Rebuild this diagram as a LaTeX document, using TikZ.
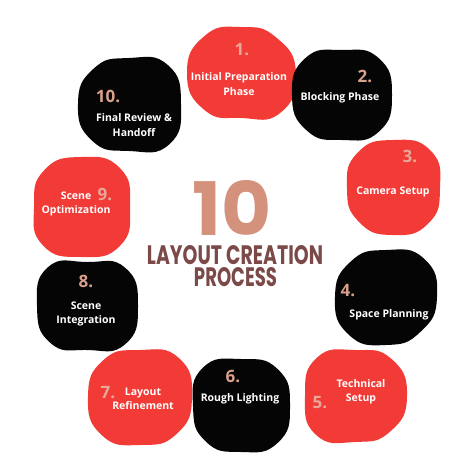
\documentclass[tikz,border=0pt]{standalone}
\usepackage{fontspec}
\usepackage{graphicx}
\setmainfont{Open Sans}
\newfontfamily\titlefont{Poppins}
\definecolor{blobred}{HTML}{F23A36}
\definecolor{blobblack}{HTML}{050505}
\definecolor{numred}{HTML}{E8A898}
\definecolor{numblack}{HTML}{D9A08C}
\definecolor{bigsalmon}{HTML}{D4917B}
\definecolor{titlebrown}{HTML}{7B4A48}
\tikzset{
  lbl/.style={text=white, font=\bfseries\fontsize{10.5}{14.5}\selectfont, align=center, inner sep=0pt},
  numr/.style={text=numred, font=\bfseries\fontsize{17}{17}\selectfont, inner sep=0pt},
  numb/.style={text=numblack, font=\bfseries\fontsize{17}{17}\selectfont, inner sep=0pt},
}
\begin{document}
\begin{tikzpicture}[x=1pt,y=-1pt]
\useasboundingbox (0,0) rectangle (474,474);
\fill[white] (0,0) rectangle (474,474);
% blobs
\fill[blobred, shift={(241,73)}] plot[smooth cycle, tension=0.9] coordinates {(0:55) (45:56) (90:45) (135:52) (180:54) (225:52) (270:46) (315:50)};
\fill[blobblack, shift={(342,95)}] plot[smooth cycle, tension=0.9] coordinates {(0:50) (45:52) (90:45) (135:50) (180:50) (225:52) (270:45) (315:52)};
\fill[blobred, shift={(393,188)}] plot[smooth cycle, tension=0.9] coordinates {(0:47) (45:50) (90:47) (135:48) (180:46) (225:50) (270:48) (315:53)};
\fill[blobblack, shift={(386,297)}] plot[smooth cycle, tension=0.9] coordinates {(0:51) (45:49) (90:48) (135:53) (180:51) (225:50) (270:47) (315:54)};
\fill[blobred, shift={(355,396)}] plot[smooth cycle, tension=0.9] coordinates {(0:52) (45:50) (90:46) (135:55) (180:50) (225:54) (270:46) (315:52)};
\fill[blobblack, shift={(241,406)}] plot[smooth cycle, tension=0.9] coordinates {(0:49) (45:52) (90:46) (135:50) (180:48) (225:54) (270:47) (315:52)};
\fill[blobred, shift={(140,397)}] plot[smooth cycle, tension=0.9] coordinates {(0:52) (45:52) (90:48) (135:54) (180:52) (225:52) (270:47) (315:55)};
\fill[blobblack, shift={(87,306)}] plot[smooth cycle, tension=0.9] coordinates {(0:51) (45:54) (90:44) (135:52) (180:50) (225:55) (270:44) (315:54)};
\fill[blobred, shift={(81,207)}] plot[smooth cycle, tension=0.9] coordinates {(0:49) (45:55) (90:50) (135:54) (180:47) (225:52) (270:50) (315:55)};
\fill[blobblack, shift={(129,104)}] plot[smooth cycle, tension=0.9] coordinates {(0:52) (45:57) (90:47) (135:52) (180:51) (225:50) (270:46) (315:55)};
% numbers
\node[numr] (n1) at (242,50) {1.};
\node[numb] (n2) at (365,76) {2.};
\node[numr] (n3) at (410,156) {3.};
\node[numb] (n4) at (348,291) {4.};
\node[numr] (n5) at (320,403) {5.};
\node[numb] (n6) at (233,376) {6.};
\node[numr] (n7) at (108,393) {7.};
\node[numb] (n8) at (86,281) {8.};
\node[numr] (n9) at (105,194) {9.};
\node[numb] (n10) at (108,96) {10.};
% labels
\node[lbl] (l1) at (239,84) {Initial Preparation\\Phase};
\node[lbl] (l2) at (340,98) {Blocking Phase};
\node[lbl] (l3) at (393,192) {Camera Setup};
\node[lbl] (l4) at (389,315) {Space Planning};
\node[lbl] (l5) at (361,392) {Technical\\Setup};
\node[lbl] (l6) at (240,399) {Rough Lighting};
\node[lbl] (l7) at (143,399) {Layout\\Refinement};
\node[lbl] (l8) at (86,314) {Scene\\Integration};
\node[lbl] (l9) at (76,204) {Scene\\Optimization};
\node[lbl] (l10) at (134,125) {Final Review \&\\Handoff};
% title
\node[inner sep=0pt, text=bigsalmon] (big) at (232,208) {\resizebox{79pt}{55pt}{\titlefont\bfseries 10}};
\node[inner sep=0pt, text=titlebrown] (t1) at (235,255) {\resizebox{176pt}{19pt}{\titlefont\bfseries LAYOUT CREATION}};
\node[inner sep=0pt, text=titlebrown] (t2) at (235.5,277) {\resizebox{83pt}{19pt}{\titlefont\bfseries PROCESS}};
\end{tikzpicture}
\end{document}
